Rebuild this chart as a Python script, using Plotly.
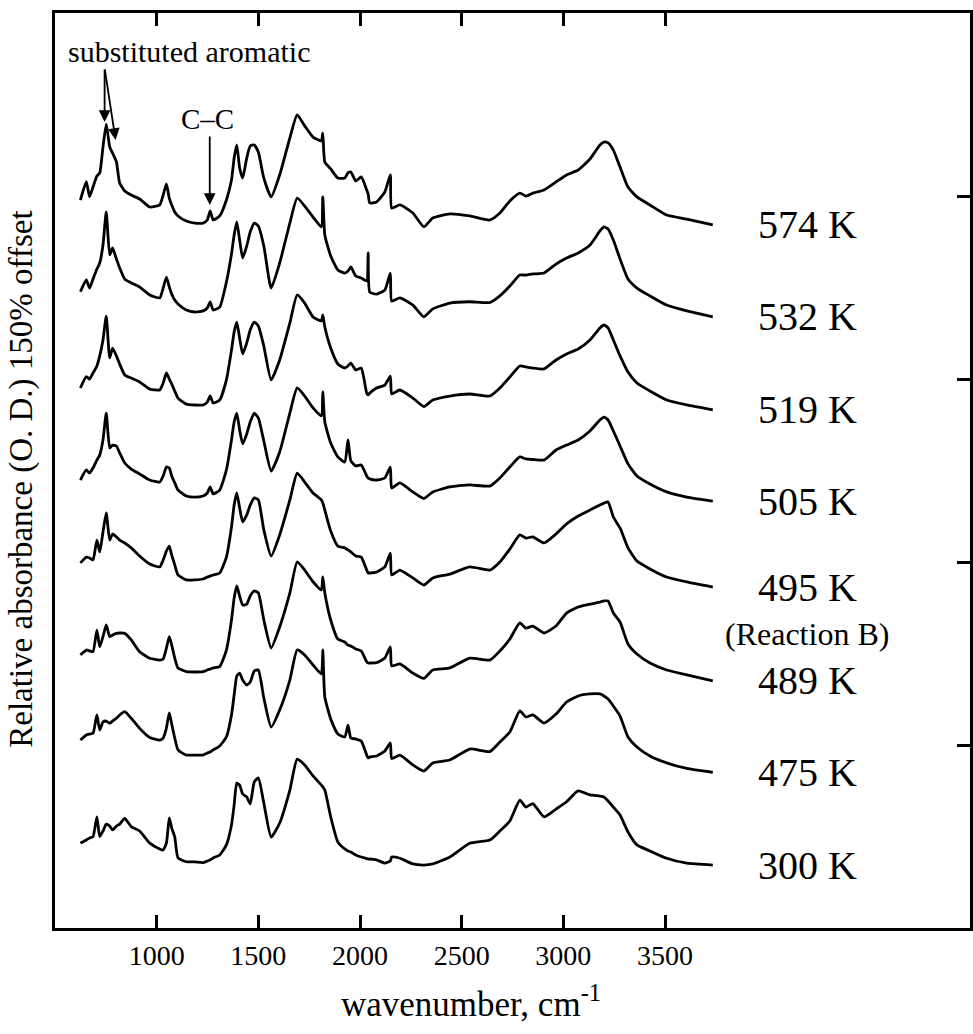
import plotly.graph_objects as go

# ---------------- data ----------------
wavenumber = [625, 654, 670, 687, 706, 720, 736, 752, 769, 783,
              802, 818, 843, 875, 916, 966, 1015, 1032, 1048, 1062,
              1074, 1089, 1105, 1146, 1187, 1228, 1249, 1263, 1278, 1310,
              1343, 1368, 1381, 1394, 1408, 1423, 1443, 1460, 1480, 1500,
              1527, 1563, 1605, 1655, 1691, 1728, 1769, 1810, 1817, 1827,
              1856, 1891, 1925, 1941, 1955, 1979, 2006, 2033, 2040, 2048,
              2081, 2122, 2149, 2156, 2196, 2260, 2314, 2358, 2442, 2540,
              2639, 2688, 2737, 2786, 2816, 2850, 2905, 2964, 3016, 3073,
              3131, 3180, 3200, 3220, 3246, 3279, 3318, 3362, 3426, 3508, 3607, 3735]

temperatures = ["300 K", "475 K", "489 K", "495 K", "505 K", "519 K", "532 K", "574 K"]

abs_300K = [0.464, 0.481, 0.492, 0.499, 0.607, 0.499, 0.530, 0.568, 0.557, 0.536,
            0.557, 0.568, 0.599, 0.554, 0.530, 0.464, 0.432, 0.426, 0.464, 0.601,
            0.546, 0.497, 0.383, 0.362, 0.361, 0.357, 0.366, 0.372, 0.383, 0.399,
            0.454, 0.563, 0.672, 0.792, 0.781, 0.732, 0.716, 0.678, 0.798, 0.820,
            0.683, 0.497, 0.574, 0.754, 0.923, 0.891, 0.831, 0.781, 0.772, 0.754,
            0.607, 0.470, 0.432, 0.421, 0.415, 0.399, 0.388, 0.380, 0.377, 0.377,
            0.372, 0.355, 0.366, 0.388, 0.381, 0.350, 0.344, 0.350, 0.388, 0.463,
            0.481, 0.530, 0.585, 0.699, 0.661, 0.680, 0.607, 0.650, 0.690, 0.749,
            0.727, 0.721, 0.716, 0.694, 0.661, 0.617, 0.525, 0.454, 0.421, 0.381, 0.354, 0.344]

abs_475K = [0.527, 0.555, 0.560, 0.564, 0.664, 0.582, 0.626, 0.631, 0.619, 0.631,
            0.646, 0.664, 0.682, 0.646, 0.591, 0.541, 0.527, 0.538, 0.593, 0.675,
            0.615, 0.538, 0.473, 0.445, 0.445, 0.445, 0.456, 0.462, 0.473, 0.495,
            0.544, 0.664, 0.773, 0.877, 0.893, 0.855, 0.828, 0.844, 0.904, 0.910,
            0.757, 0.598, 0.691, 0.855, 1.019, 0.992, 0.937, 0.888, 1.019, 0.762,
            0.642, 0.560, 0.544, 0.609, 0.538, 0.533, 0.522, 0.445, 0.429, 0.434,
            0.440, 0.467, 0.511, 0.426, 0.445, 0.391, 0.358, 0.402, 0.418, 0.478,
            0.464, 0.516, 0.571, 0.686, 0.653, 0.664, 0.620, 0.669, 0.735, 0.768,
            0.779, 0.779, 0.768, 0.751, 0.713, 0.658, 0.544, 0.489, 0.440, 0.402, 0.372, 0.351]

abs_489K = [0.492, 0.519, 0.514, 0.510, 0.628, 0.537, 0.592, 0.656, 0.592, 0.601,
            0.610, 0.612, 0.610, 0.574, 0.510, 0.474, 0.464, 0.470, 0.530, 0.592,
            0.546, 0.475, 0.421, 0.401, 0.399, 0.401, 0.410, 0.415, 0.421, 0.428,
            0.519, 0.683, 0.803, 0.869, 0.814, 0.765, 0.770, 0.814, 0.842, 0.831,
            0.683, 0.530, 0.645, 0.831, 1.000, 0.956, 0.892, 0.847, 0.918, 0.831,
            0.683, 0.579, 0.563, 0.546, 0.541, 0.525, 0.514, 0.454, 0.448, 0.448,
            0.450, 0.475, 0.536, 0.432, 0.443, 0.393, 0.364, 0.410, 0.421, 0.475,
            0.464, 0.514, 0.579, 0.667, 0.639, 0.650, 0.612, 0.650, 0.721, 0.754,
            0.770, 0.781, 0.787, 0.787, 0.721, 0.672, 0.552, 0.497, 0.448, 0.410, 0.383, 0.351]

abs_495K = [0.495, 0.527, 0.522, 0.511, 0.620, 0.555, 0.664, 0.768, 0.620, 0.653,
            0.637, 0.620, 0.604, 0.577, 0.533, 0.489, 0.473, 0.511, 0.560, 0.587,
            0.538, 0.484, 0.429, 0.402, 0.402, 0.407, 0.418, 0.423, 0.429, 0.440,
            0.527, 0.691, 0.811, 0.877, 0.795, 0.719, 0.757, 0.811, 0.850, 0.839,
            0.675, 0.533, 0.648, 0.839, 0.986, 0.937, 0.877, 0.839, 0.822, 0.784,
            0.669, 0.587, 0.577, 0.566, 0.555, 0.533, 0.527, 0.456, 0.440, 0.440,
            0.445, 0.473, 0.549, 0.429, 0.456, 0.413, 0.374, 0.413, 0.434, 0.473,
            0.456, 0.500, 0.571, 0.648, 0.631, 0.637, 0.604, 0.653, 0.708, 0.751,
            0.784, 0.811, 0.822, 0.828, 0.746, 0.686, 0.577, 0.505, 0.462, 0.418, 0.391, 0.363]

abs_505K = [0.448, 0.503, 0.486, 0.514, 0.557, 0.585, 0.667, 0.814, 0.623, 0.639,
            0.634, 0.596, 0.541, 0.508, 0.481, 0.448, 0.437, 0.470, 0.519, 0.514,
            0.470, 0.432, 0.393, 0.361, 0.355, 0.361, 0.377, 0.410, 0.372, 0.393,
            0.503, 0.667, 0.765, 0.814, 0.721, 0.645, 0.699, 0.765, 0.814, 0.787,
            0.661, 0.497, 0.601, 0.814, 0.951, 0.907, 0.842, 0.798, 0.929, 0.765,
            0.650, 0.574, 0.546, 0.667, 0.552, 0.525, 0.530, 0.470, 0.459, 0.454,
            0.448, 0.459, 0.519, 0.404, 0.432, 0.383, 0.347, 0.383, 0.410, 0.421,
            0.415, 0.459, 0.519, 0.574, 0.563, 0.560, 0.557, 0.612, 0.639, 0.667,
            0.716, 0.776, 0.792, 0.776, 0.716, 0.634, 0.536, 0.470, 0.426, 0.383, 0.355, 0.333]

abs_519K = [0.451, 0.513, 0.500, 0.533, 0.571, 0.626, 0.713, 0.844, 0.615, 0.669,
            0.626, 0.582, 0.522, 0.505, 0.484, 0.445, 0.440, 0.478, 0.533, 0.500,
            0.473, 0.434, 0.396, 0.363, 0.358, 0.358, 0.374, 0.407, 0.369, 0.385,
            0.495, 0.658, 0.757, 0.811, 0.724, 0.637, 0.697, 0.768, 0.811, 0.790,
            0.680, 0.495, 0.604, 0.806, 0.959, 0.915, 0.839, 0.817, 0.850, 0.784,
            0.669, 0.582, 0.560, 0.571, 0.587, 0.549, 0.560, 0.423, 0.413, 0.423,
            0.451, 0.467, 0.516, 0.418, 0.440, 0.396, 0.349, 0.385, 0.407, 0.418,
            0.407, 0.451, 0.511, 0.571, 0.566, 0.560, 0.555, 0.604, 0.637, 0.664,
            0.713, 0.779, 0.795, 0.779, 0.713, 0.626, 0.538, 0.478, 0.434, 0.385, 0.358, 0.331]

abs_532K = [0.477, 0.541, 0.497, 0.546, 0.601, 0.634, 0.732, 0.913, 0.678, 0.716,
            0.656, 0.607, 0.546, 0.525, 0.503, 0.459, 0.443, 0.497, 0.557, 0.503,
            0.464, 0.432, 0.410, 0.377, 0.366, 0.372, 0.388, 0.421, 0.377, 0.393,
            0.530, 0.683, 0.787, 0.858, 0.760, 0.661, 0.727, 0.803, 0.852, 0.836,
            0.727, 0.497, 0.634, 0.852, 0.989, 0.945, 0.885, 0.831, 0.995, 0.787,
            0.672, 0.596, 0.579, 0.590, 0.612, 0.563, 0.552, 0.536, 0.689, 0.475,
            0.464, 0.486, 0.579, 0.426, 0.443, 0.404, 0.340, 0.383, 0.415, 0.422,
            0.418, 0.454, 0.508, 0.568, 0.568, 0.574, 0.579, 0.628, 0.661, 0.689,
            0.732, 0.809, 0.831, 0.820, 0.760, 0.656, 0.546, 0.497, 0.454, 0.404, 0.372, 0.339]

abs_574K = [0.478, 0.578, 0.496, 0.549, 0.609, 0.626, 0.768, 0.893, 0.768, 0.735,
            0.686, 0.571, 0.527, 0.505, 0.484, 0.440, 0.451, 0.505, 0.566, 0.489,
            0.451, 0.413, 0.391, 0.363, 0.352, 0.352, 0.369, 0.418, 0.369, 0.391,
            0.478, 0.587, 0.708, 0.779, 0.653, 0.598, 0.708, 0.773, 0.779, 0.740,
            0.598, 0.495, 0.615, 0.817, 0.943, 0.883, 0.822, 0.801, 0.844, 0.686,
            0.648, 0.598, 0.598, 0.626, 0.631, 0.582, 0.604, 0.533, 0.511, 0.462,
            0.467, 0.522, 0.615, 0.434, 0.451, 0.407, 0.332, 0.380, 0.402, 0.391,
            0.369, 0.407, 0.473, 0.516, 0.500, 0.516, 0.533, 0.577, 0.615, 0.642,
            0.702, 0.779, 0.795, 0.790, 0.751, 0.658, 0.549, 0.495, 0.451, 0.396, 0.374, 0.342]

spectra = [abs_300K, abs_475K, abs_489K, abs_495K, abs_505K, abs_519K, abs_532K, abs_574K]
OFFSET_STEP = 0.5          # vertical offset between successive spectra (O.D.)
x_ticks = [1000, 1500, 2000, 2500, 3000, 3500]
y_ticks = [1, 2, 3, 4]

for s in spectra:
    assert len(s) == len(wavenumber)

SERIF = "Liberation Serif"
fig = go.Figure()

for i, (label, vals) in enumerate(zip(temperatures, spectra)):
    off = i * OFFSET_STEP
    fig.add_trace(go.Scatter(
        x=wavenumber, y=[v + off for v in vals], mode="lines",
        line=dict(color="black", width=2.8, shape="spline", smoothing=0.5),
        showlegend=False, hoverinfo="skip"))
    fig.add_annotation(x=4200, y=vals[-1] + off, xref="x", yref="y", text=label,
                       showarrow=False, font=dict(family=SERIF, size=40, color="black"))
    if label == "495 K":
        fig.add_annotation(x=4200, y=vals[-1] + off - 0.255, xref="x", yref="y",
                           text="(Reaction B)", showarrow=False,
                           font=dict(family=SERIF, size=32, color="black"))

# peak annotations
fig.add_annotation(x=1160, y=4.787, xref="x", yref="y", text="substituted aromatic",
                   showarrow=False, font=dict(family=SERIF, size=30, color="black"))
fig.add_annotation(x=1250, y=4.42, xref="x", yref="y", text="C\u2013C",
                   showarrow=False, font=dict(family=SERIF, size=29, color="black"))
arrow_style = dict(xref="x", yref="y", axref="x", ayref="y", text="", showarrow=True,
                   arrowhead=2, arrowsize=1.3, arrowwidth=1.8, arrowcolor="black")
fig.add_annotation(x=744, y=4.404, ax=744, ay=4.699, **arrow_style)
fig.add_annotation(x=798, y=4.306, ax=744, ay=4.699, **arrow_style)
fig.add_annotation(x=1261, y=3.951, ax=1261, ay=4.333, **arrow_style)

# axis titles
fig.add_annotation(x=0.4546, y=-0.054, xref="paper", yref="paper", yanchor="top",
                   text="wavenumber, cm<sup>-1</sup>", showarrow=False,
                   font=dict(family=SERIF, size=35, color="black"))
fig.add_annotation(x=-0.036, y=0.49, xref="paper", yref="paper", textangle=-90,
                   xanchor="center", yanchor="middle",
                   text="Relative absorbance (O. D.) 150% offset", showarrow=False,
                   font=dict(family=SERIF, size=33, color="black"))

fig.update_layout(
    width=973, height=1034,
    margin=dict(l=55, r=3, t=13, b=106),
    paper_bgcolor="white", plot_bgcolor="white",
    xaxis=dict(range=[500, 5000], tickvals=x_ticks, ticks="inside", ticklen=13,
               tickwidth=2.5, tickcolor="black", showline=True, linewidth=3,
               linecolor="black", mirror="ticks", showgrid=False, zeroline=False,
               tickfont=dict(family=SERIF, size=28, color="black")),
    yaxis=dict(range=[0, 5], side="right", tickvals=y_ticks, ticks="inside",
               ticklen=13, tickwidth=2.5, tickcolor="black", showticklabels=False,
               showline=True, linewidth=3, linecolor="black", mirror=True,
               showgrid=False, zeroline=False),
)

fig.write_html("out.html")
